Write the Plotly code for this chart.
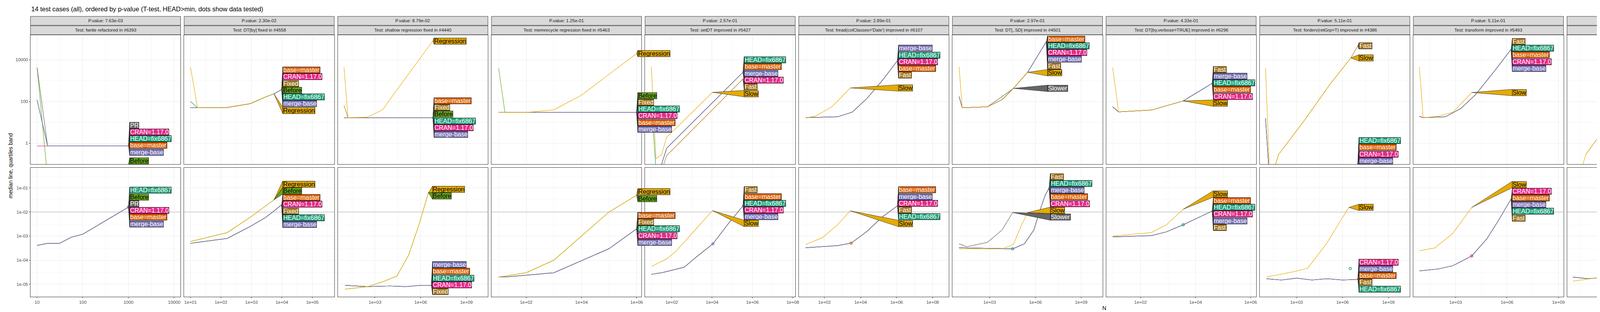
import math
import plotly.graph_objects as go
from plotly.subplots import make_subplots

TITLE = "14 test cases (all), ordered by p-value (T-test, HEAD>min, dots show data tested)"
P_VALUES = ["7.63e-03", "2.30e-02", "8.79e-02", "1.25e-01", "2.57e-01", "2.89e-01", "2.97e-01",
            "4.33e-01", "5.11e-01", "5.11e-01", "5.51e-01", "6.61e-01", "7.15e-01", "8.43e-01"]
TESTS = [
    "fwrite refactored in #6393",
    "DT[by] fixed in #4558",
    "shallow regression fixed in #4440",
    "memrecycle regression fixed in #5463",
    "setDT improved in #5427",
    "fread(colClasses='Date') improved in #6107",
    "DT[,.SD] improved in #4501",
    "DT[by,verbose=TRUE] improved in #6296",
    "forderv(retGrp=T) improved in #4386",
    "transform improved in #5493",
    "forderv(retGrp=F) improved in #4386",
    "fread(colClasses=list(Date='date')) improved in #6107",
    "melt improved in #5054",
    "fread(select=list(Date='date')) improved in #6107",
]
UNITS = ["kilobytes", "seconds"]
Y_TICKS_KB = [1, 100, 10000]
Y_TICKS_S = [1e-5, 1e-4, 1e-3, 1e-2, 1e-1]
REF_SECONDS = 0.01

X_TICKS = [
    [10, 100, 1000, 10000], [1e1, 1e2, 1e3, 1e4, 1e5], [1e3, 1e6, 1e9], [1e2, 1e4, 1e6],
    [1e2, 1e4, 1e6, 1e8], [1e2, 1e4, 1e6, 1e8], [1e3, 1e6, 1e9], [1e2, 1e4, 1e6],
    [1e3, 1e6, 1e9], [1e3, 1e6, 1e9], [1e3, 1e6, 1e9], [1e2, 1e4, 1e6, 1e8],
    [10, 100, 1000], [1e2, 1e4, 1e6, 1e8],
]
X_TICK_TEXT = [
    ["10", "100", "1000", "10000"], ["1e+01", "1e+02", "1e+03", "1e+04", "1e+05"],
    ["1e+03", "1e+06", "1e+09"], ["1e+02", "1e+04", "1e+06"],
    ["1e+02", "1e+04", "1e+06", "1e+08"], ["1e+02", "1e+04", "1e+06", "1e+08"],
    ["1e+03", "1e+06", "1e+09"], ["1e+02", "1e+04", "1e+06"],
    ["1e+03", "1e+06", "1e+09"], ["1e+03", "1e+06", "1e+09"], ["1e+03", "1e+06", "1e+09"],
    ["1e+02", "1e+04", "1e+06", "1e+08"], ["10", "100", "1000"],
    ["1e+02", "1e+04", "1e+06", "1e+08"],
]

HEAD, BASE, MB, CRAN = "HEAD=fix6867", "base=master", "merge-base", "CRAN=1.17.0"

# fwrite refactored in #6393
fw_n = [10, 17, 1000]
fw_kb_pr = [4200, 0.74, 0.74]
fw_kb_before = [4200, 0.02, 0.02]
fw_kb_main = [118, 0.74, 0.74]
fw_kb_cran = [0.74, 0.74, 0.74]
fw_n_s = [10, 17, 31, 56, 100, 1000]
fw_s = [4.1e-4, 5.0e-4, 5.0e-4, 9.0e-4, 1.2e-3, 1.6e-2]

# DT[by] fixed in #4558
by_n = [10, 17, 160, 910, 2950, 5500, 9800]
by_kb = [50, 50, 52, 79, 166, 234, 372]
by_kb_head = [100, 50, 52, 79, 166, 234, 372]
by_n_reg = [10, 17, 160, 910, 2950, 5500]
by_kb_reg = [4370, 50, 52, 79, 166, 234]
by_s = [5e-4, 5.5e-4, 8e-4, 2.5e-3, 6e-3, 1.1e-2, 2e-2]
by_s_reg = [6e-4, 7e-4, 1.4e-3, 6e-3, 1.8e-2, 3.2e-2]

# shallow regression fixed in #4440
sh_n_reg = [9.3, 17, 316, 3160, 17000, 316000, 6.3e6]
sh_kb_reg = [4370, 17, 17.8, 40, 224, 3980, 79400]
sh_n = [9.3, 17, 1000, 1e5, 6.3e6]
sh_kb = [17, 17, 17, 17, 17]
sh_kb_fixed = [65, 17, 17, 17, 17]
sh_n_s = [11, 316, 1e4, 1e5, 1e6, 5e6]
sh_s = [9e-6, 8e-6, 8.5e-6, 8e-6, 9e-6, 9e-6]
sh_n_s_reg = [11, 316, 3160, 27500, 1.6e5, 8e5, 3.2e6]
sh_s_reg = [6.3e-6, 7.9e-6, 1.26e-5, 2.2e-5, 1.6e-4, 3.2e-3, 6.3e-2]

# memrecycle regression fixed in #5463
mr_n = [10, 17, 1000, 1e5, 1e6]
mr_kb_before = [4000, 30, 30, 30, 30]
mr_kb = [30, 30, 30, 30, 30]
mr_n_reg = [10, 100, 1000, 1e4, 1e5, 1e6]
mr_kb_reg = [30, 30, 40, 200, 2000, 20000]
mr_s = [2e-5, 2e-5, 3e-5, 3e-4, 2e-3]
mr_s_reg = [2e-5, 3e-5, 1e-4, 1e-3, 1e-2, 5e-2]

# setDT improved in #5427
sd_n_slow = [9.8, 16.6, 31.6, 56, 115, 10500]
sd_kb_slow = [4570, 0.18, 0.29, 2.0, 3.8, 275]
sd_n = [16.6, 31.6, 56, 339000]
sd_kb = [0.05, 0.1, 0.58, 2510]
sd_n_head = [9.8, 16.6, 31.6, 56, 339000]
sd_kb_head = [100, 0.05, 0.1, 0.58, 2510]
sd_n_fast = [31.6, 56, 339000]
sd_kb_fast = [0.05, 0.26, 1200]
sd_n_s_slow = [9.8, 59, 170, 10500]
sd_s_slow = [5.5e-5, 1.15e-4, 2.45e-4, 1.15e-2]
sd_n_s = [9.8, 31.6, 417, 1480, 11000, 67600, 339000]
sd_s = [2.6e-5, 3.0e-5, 5.1e-5, 1.26e-4, 4.8e-4, 3.5e-3, 1.8e-2]

# fread(colClasses='Date') improved in #6107
fd_n_slow = [9.1, 29, 78, 257, 2690]
fd_kb_slow = [17, 19.5, 31, 56, 447]
fd_n = [9.1, 525, 3470, 23400, 158000, 1.1e6]
fd_kb = [17, 18.6, 31, 145, 1000, 8900]
fd_n_s_slow = [9.1, 78, 525, 2690]
fd_s_slow = [4.5e-4, 8.7e-4, 2.95e-3, 1.12e-2]
fd_n_s = [9.1, 525, 3000, 23400, 158000, 1.1e6]
fd_s = [3.3e-4, 4.0e-4, 5.1e-4, 1.6e-3, 6.2e-3, 1.8e-2]

# DT[,.SD] improved in #4501
sdt_n_slow = [10, 16, 710, 6600, 36300, 309000]
sdt_kb_slow = [4570, 50, 56, 123, 427, 2510]
sdt_n_slower = [16, 710, 5000, 36300]
sdt_kb_slower = [50, 56, 150, 427]
sdt_n = [10, 16, 710, 6600, 36300, 309000, 5.2e6]
sdt_kb = [174, 50, 56, 123, 427, 2510, 74000]
sdt_n_s_slower = [10, 31.6, 710, 6600, 32400]
sdt_s_slower = [4.8e-4, 3.6e-4, 5.5e-4, 1.8e-3, 9.5e-3]
sdt_n_s_slow = [10, 6600, 36300, 112000, 309000]
sdt_s_slow = [2.95e-4, 2.95e-4, 4.5e-4, 2.5e-3, 9.5e-3]
sdt_n_s = [10, 32400, 190000, 794000, 1.9e6, 4.4e6, 7.9e6]
sdt_s = [3.3e-4, 2.95e-4, 4.8e-4, 1.8e-3, 1.1e-2, 5e-2, 0.1]

# DT[by,verbose=TRUE] improved in #6296
vb_n_slow = [9.8, 16, 250, 3550]
vb_kb_slow = [4170, 32, 39, 107]
vb_n = [9.8, 16, 250, 3550, 40000]
vb_kb = [56, 32, 39, 107, 740]
vb_n_s_slow = [9.8, 250, 870, 3550]
vb_s_slow = [1e-3, 1.4e-3, 2.95e-3, 1.3e-2]
vb_n_s = [9.8, 250, 870, 3550, 40000]
vb_s = [9.3e-4, 1.05e-3, 1.5e-3, 2.95e-3, 1.1e-2]

# forderv(retGrp=T) improved in #4386
ft_n_slow = [9.3, 17, 31.6, 66, 3090, 158000, 3.5e6]
ft_kb_slow = [4170, 0.05, 0.05, 0.29, 12, 692, 12300]
ft_n_fast = [31.6, 66, 3090, 158000, 3.5e6, 1e7]
ft_kb_fast = [0.05, 0.29, 12, 692, 12300, 45700]
ft_n = [9.3, 17, 1e7]
ft_kb = [16, 0.02, 0.02]
ft_n_s_slow = [10.7, 740, 5250, 89000, 832000, 2.6e6]
ft_s_slow = [2.0e-5, 3.4e-5, 4.6e-5, 4.8e-4, 4.9e-3, 1.55e-2]
ft_n_s = [10.7, 100, 1000, 1e4, 1e5, 1e6, 1e7]
ft_s = [1.7e-5, 1.5e-5, 1.8e-5, 1.5e-5, 1.7e-5, 1.5e-5, 1.6e-5]

# transform improved in #5493
tr_n_slow = [7.6, 12.6, 93, 690, 8700]
tr_kb_slow = [4570, 17, 19.5, 31, 270]
tr_n = [7.6, 12.6, 250, 2000, 14500, 182000, 1.74e6]
tr_kb = [19.5, 17, 18.6, 46, 214, 2820, 31600]
tr_n_s_slow = [7.6, 59, 690, 8700]
tr_s_slow = [2.45e-4, 3.2e-4, 1.3e-3, 1.55e-2]
tr_n_s = [7.6, 93, 690, 8700, 67600, 295000, 1.74e6]
tr_s = [3.6e-5, 4.3e-5, 5.9e-5, 1.5e-4, 7.8e-4, 4.1e-3, 3.5e-2]

# forderv(retGrp=F) improved in #4386
ff_n_slow = [10, 42, 71, 2750, 257000, 3.2e6]
ff_kb_slow = [0.08, 0.08, 0.29, 12, 1200, 12300]
ff_n_fast = [71, 2750, 257000, 3.2e6, 1e7]
ff_kb_fast = [0.29, 12, 1200, 12300, 45700]
ff_n = [10, 1e7]
ff_kb = [0.02, 0.02]
ff_n_s_slow = [10, 890, 4900, 46800, 437000, 3.2e6]
ff_s_slow = [1.35e-5, 2.0e-5, 4.6e-5, 3.4e-4, 3.5e-3, 1.35e-2]
ff_n_s = [10, 100, 1000, 1e4, 1e5, 1e6, 3.2e6]
ff_s = [2e-5, 1.7e-5, 1.9e-5, 1.6e-5, 1.8e-5, 1.6e-5, 1.7e-5]

# fread(colClasses=list(Date='date')) improved in #6107
fl_n_slow = [10, 17, 35, 71, 229, 3090]
fl_kb_slow = [7240, 17.8, 19.5, 29, 46, 468]
fl_n = [17, 589, 3800, 25700, 158000, 1e6]
fl_kb = [17.8, 18.6, 31, 123, 1000, 8900]
fl_n_cran = [10, 17, 589, 3800, 25700, 158000, 1e6]
fl_kb_cran = [427, 17.8, 18.6, 31, 123, 1000, 8900]
fl_n_s_slow = [10, 91, 589, 3090]
fl_s_slow = [4.5e-4, 8.7e-4, 2.5e-3, 1.07e-2]
fl_n_s = [10, 3090, 25700, 158000, 1e6]
fl_s = [3.3e-4, 5.1e-4, 1.8e-3, 6.3e-3, 1.8e-2]

# melt improved in #5054
ml_n = [10, 31.6, 100, 316, 1000, 3160]
ml_kb = [20, 32, 100, 500, 3160, 20000]
ml_s = [5e-5, 1e-4, 2.5e-4, 1e-3, 5e-3, 3e-2]

# fread(select=list(Date='date')) improved in #6107
fs_n_slow = [10, 17, 35, 71, 229, 2950]
fs_kb_slow = [7240, 17.8, 19.5, 29, 46, 447]
fs_n = [17, 1350, 10000, 79000, 933000]
fs_kb = [17.8, 23, 59, 372, 4170]
fs_n_s_slow = [10, 91, 589, 2950]
fs_s_slow = [4.5e-4, 8.7e-4, 2.5e-3, 1e-2]
fs_n_s = [10, 1350, 2950, 15800, 31600, 158000, 282000, 933000]
fs_s = [3.3e-4, 3.8e-4, 4.8e-4, 8.3e-4, 1.6e-3, 5.75e-3, 5.4e-3, 1.7e-2]

# dots: data tested (panel index, series, N, seconds)
DOTS = [
    (0, MB, 1000, 1.6e-2), (4, MB, 11000, 4.8e-4), (5, BASE, 3000, 5.1e-4),
    (6, HEAD, 32400, 2.95e-4), (7, HEAD, 3550, 2.95e-3), (8, HEAD, 3.2e6, 4.5e-5),
    (9, CRAN, 8700, 1.5e-4), (10, HEAD, 3.2e6, 2.5e-5), (11, BASE, 3090, 5.1e-4),
    (13, CRAN, 2950, 4.8e-4),
]


def same(curve, names):
    return {nm: curve for nm in names}


PANELS = [
    dict(kb={"Before": (fw_n, fw_kb_before), "PR": (fw_n, fw_kb_pr), CRAN: (fw_n, fw_kb_cran),
             **same((fw_n, fw_kb_main), [HEAD, BASE, MB])},
         s=same((fw_n_s, fw_s), ["Before", "PR", CRAN, BASE, HEAD, MB]),
         kb_order=["PR", CRAN, HEAD, BASE, MB, "Before"],
         s_order=[HEAD, "Before", "PR", CRAN, BASE, MB]),
    dict(kb={**same((by_n, by_kb), [BASE, CRAN, "Fixed", "Before", MB]), HEAD: (by_n, by_kb_head),
             "Regression": (by_n_reg, by_kb_reg)},
         s={**same((by_n, by_s), [BASE, CRAN, "Fixed", HEAD, MB]),
            **same((by_n_reg, by_s_reg), ["Before", "Regression"])},
         kb_order=[BASE, CRAN, "Fixed", "Before", HEAD, MB, "Regression"],
         s_order=["Regression", "Before", BASE, CRAN, "Fixed", HEAD, MB]),
    dict(kb={**same((sh_n, sh_kb), [BASE, HEAD, CRAN, MB, "Before"]), "Fixed": (sh_n, sh_kb_fixed),
             "Regression": (sh_n_reg, sh_kb_reg)},
         s={**same((sh_n_s, sh_s), [MB, BASE, HEAD, CRAN, "Fixed"]),
            **same((sh_n_s_reg, sh_s_reg), ["Before", "Regression"])},
         kb_order=["Regression", BASE, "Fixed", "Before", HEAD, CRAN, MB],
         s_order=["Regression", "Before", MB, BASE, HEAD, CRAN, "Fixed"]),
    dict(kb={**same((mr_n, mr_kb), ["Fixed", HEAD, CRAN, BASE, MB]), "Before": (mr_n, mr_kb_before),
             "Regression": (mr_n_reg, mr_kb_reg)},
         s={**same((mr_n, mr_s), [BASE, "Fixed", HEAD, CRAN, MB]),
            **same((mr_n_reg, mr_s_reg), ["Before", "Regression"])},
         kb_order=["Regression", "Before", "Fixed", HEAD, CRAN, BASE, MB],
         s_order=["Regression", "Before", BASE, "Fixed", HEAD, CRAN, MB]),
    dict(kb={**same((sd_n, sd_kb), [BASE, MB, CRAN]), HEAD: (sd_n_head, sd_kb_head),
             "Fast": (sd_n_fast, sd_kb_fast), "Slow": (sd_n_slow, sd_kb_slow)},
         s={**same((sd_n_s, sd_s), [BASE, MB, CRAN, HEAD, "Fast"]), "Slow": (sd_n_s_slow, sd_s_slow)},
         kb_order=[HEAD, BASE, MB, CRAN, "Fast", "Slow"],
         s_order=["Fast", BASE, HEAD, CRAN, MB, "Slow"]),
    dict(kb={**same((fd_n, fd_kb), [MB, HEAD, CRAN, BASE, "Fast"]), "Slow": (fd_n_slow, fd_kb_slow)},
         s={**same((fd_n_s, fd_s), [MB, HEAD, CRAN, BASE, "Fast"]), "Slow": (fd_n_s_slow, fd_s_slow)},
         kb_order=[MB, HEAD, CRAN, BASE, "Fast", "Slow"],
         s_order=[BASE, MB, CRAN, "Fast", HEAD, "Slow"]),
    dict(kb={**same((sdt_n, sdt_kb), [BASE, HEAD, CRAN, MB, "Fast"]), "Slow": (sdt_n_slow, sdt_kb_slow),
             "Slower": (sdt_n_slower, sdt_kb_slower)},
         s={**same((sdt_n_s, sdt_s), [BASE, HEAD, CRAN, MB, "Fast"]),
            "Slow": (sdt_n_s_slow, sdt_s_slow), "Slower": (sdt_n_s_slower, sdt_s_slower)},
         kb_order=[BASE, HEAD, CRAN, MB, "Fast", "Slow", "Slower"],
         s_order=["Fast", HEAD, MB, BASE, CRAN, "Slow", "Slower"]),
    dict(kb={**same((vb_n, vb_kb), [MB, HEAD, CRAN, BASE, "Fast"]), "Slow": (vb_n_slow, vb_kb_slow)},
         s={**same((vb_n_s, vb_s), [MB, HEAD, CRAN, BASE, "Fast"]), "Slow": (vb_n_s_slow, vb_s_slow)},
         kb_order=["Fast", MB, HEAD, BASE, CRAN, "Slow"],
         s_order=["Slow", BASE, HEAD, CRAN, MB, "Fast"]),
    dict(kb={**same((ft_n, ft_kb), [HEAD, BASE, CRAN, MB]), "Fast": (ft_n_fast, ft_kb_fast),
             "Slow": (ft_n_slow, ft_kb_slow)},
         s={**same((ft_n_s, ft_s), [HEAD, BASE, CRAN, MB, "Fast"]), "Slow": (ft_n_s_slow, ft_s_slow)},
         kb_order=["Fast", "Slow", HEAD, BASE, CRAN, MB],
         s_order=["Slow", CRAN, MB, BASE, "Fast", HEAD]),
    dict(kb={**same((tr_n, tr_kb), [MB, HEAD, CRAN, BASE, "Fast"]), "Slow": (tr_n_slow, tr_kb_slow)},
         s={**same((tr_n_s, tr_s), [MB, HEAD, CRAN, BASE, "Fast"]), "Slow": (tr_n_s_slow, tr_s_slow)},
         kb_order=["Fast", HEAD, BASE, CRAN, MB, "Slow"],
         s_order=["Slow", CRAN, BASE, MB, HEAD, "Fast"]),
    dict(kb={**same((ff_n, ff_kb), [HEAD, BASE, CRAN, MB]), "Fast": (ff_n_fast, ff_kb_fast),
             "Slow": (ff_n_slow, ff_kb_slow)},
         s={**same((ff_n_s, ff_s), [HEAD, BASE, CRAN, MB, "Fast"]), "Slow": (ff_n_s_slow, ff_s_slow)},
         kb_order=["Fast", "Slow", MB, HEAD, CRAN, BASE],
         s_order=["Slow", BASE, "Fast", CRAN, HEAD, MB]),
    dict(kb={**same((fl_n, fl_kb), [MB, HEAD, BASE, "Fast"]), CRAN: (fl_n_cran, fl_kb_cran),
             "Slow": (fl_n_slow, fl_kb_slow)},
         s={**same((fl_n_s, fl_s), [MB, HEAD, CRAN, BASE, "Fast"]), "Slow": (fl_n_s_slow, fl_s_slow)},
         kb_order=[MB, HEAD, CRAN, BASE, "Fast", "Slow"],
         s_order=[BASE, "Fast", CRAN, MB, HEAD, "Slow"]),
    dict(kb=same((ml_n, ml_kb), [BASE, HEAD, CRAN, MB, "Fast", "Slow"]),
         s=same((ml_n, ml_s), [BASE, HEAD, CRAN, MB, "Fast", "Slow"]),
         kb_order=[BASE, HEAD, CRAN, MB, "Fast", "Slow"],
         s_order=[BASE, MB, HEAD, CRAN, "Fast", "Slow"]),
    dict(kb={**same((fs_n, fs_kb), [MB, HEAD, CRAN, BASE, "Fast"]), "Slow": (fs_n_slow, fs_kb_slow)},
         s={**same((fs_n_s, fs_s), [MB, HEAD, CRAN, BASE, "Fast"]), "Slow": (fs_n_s_slow, fs_s_slow)},
         kb_order=[MB, HEAD, CRAN, BASE, "Fast", "Slow"],
         s_order=[BASE, "Fast", CRAN, MB, HEAD, "Slow"]),
]

COLORS = {
    HEAD: "#1B9E77", BASE: "#D95F02", MB: "#7570B3", CRAN: "#E7298A",
    "Before": "#66A61E", "Regression": "#E6AB02", "Slow": "#E6AB02",
    "Fixed": "#A6761D", "Fast": "#A6761D", "PR": "#666666", "Slower": "#666666",
}
DARK_TEXT = {"Before", "Regression", "Slow"}
DRAW_ORDER = ["Before", "PR", "Slower", "Fixed", "Fast", CRAN, BASE, HEAD, MB, "Regression", "Slow"]

# layout geometry (pixels)
W, H = 5600, 800
L_M, R_M, T_M, B_M = 70, 32, 82, 47
PLOT_W, PLOT_H = W - L_M - R_M, H - T_M - B_M
GAP = 9
PANEL_W = (PLOT_W - 13 * GAP) / 14
X_RANGES = [
    (0.855, 4.14), (0.79, 5.72), (0.56, 10.41), (0.74, 6.18), (0.68, 8.12), (0.57, 8.9),
    (0.56, 10.4), (0.75, 6.2), (0.59, 10.4), (0.53, 9.3), (0.62, 10.46), (0.66, 8.85),
    (0.89, 3.76), (0.68, 8.85),
]
Y_RANGE = {"kb": (-1.0, 5.18), "s": (-5.52, -0.16)}
LABEL_H = {"kb": 17.3 / 53.6, "s": 17.3 / 62.0}
FONT = "Liberation Sans, Arial, sans-serif"


def stack(targets, h):
    # isotonic fit so that labels (top to bottom) keep order without overlap
    z = [t + i * h for i, t in enumerate(targets)]
    blocks = []
    for v in z:
        blocks.append([v, 1])
        while len(blocks) > 1 and blocks[-2][0] / blocks[-2][1] < blocks[-1][0] / blocks[-1][1]:
            s, c = blocks.pop()
            blocks[-1][0] += s
            blocks[-1][1] += c
    q = []
    for s, c in blocks:
        q += [s / c] * c
    return [qi - i * h for i, qi in enumerate(q)]


def minor_vals(ticks, lo, hi):
    logs = [math.log10(t) for t in ticks]
    step = logs[1] - logs[0]
    v = logs[0] - step / 2
    while v - step > lo:
        v -= step
    out = []
    while v < hi:
        if v > lo:
            out.append(10 ** v)
        v += step
    return out


fig = make_subplots(rows=2, cols=14, horizontal_spacing=GAP / PLOT_W, vertical_spacing=GAP / PLOT_H)
annotations = []
shapes = []

for c, panel in enumerate(PANELS):
    xlo, xhi = X_RANGES[c]
    gap = 3 * (xhi - xlo) / PANEL_W
    for r, key in enumerate(["kb", "s"]):
        row, col = r + 1, c + 1
        idx = r * 14 + c + 1
        xref = "x" if idx == 1 else f"x{idx}"
        yref = "y" if idx == 1 else f"y{idx}"
        ylo, yhi = Y_RANGE[key]
        h = LABEL_H[key]
        series = panel[key]
        if key == "s":
            fig.add_trace(go.Scatter(x=[10 ** xlo, 10 ** xhi], y=[REF_SECONDS, REF_SECONDS], mode="lines",
                                     line=dict(color="#B3B3B3", width=1.4), hoverinfo="skip",
                                     showlegend=False), row=row, col=col)
        for name in DRAW_ORDER:
            if name in series:
                n, v = series[name]
                fig.add_trace(go.Scatter(x=n, y=v, mode="lines", line=dict(color=COLORS[name], width=1.2),
                                         name=name, showlegend=False), row=row, col=col)
        if key == "s":
            for pc, name, n, v in DOTS:
                if pc == c:
                    fig.add_trace(go.Scatter(x=[n], y=[v], mode="markers",
                                             marker=dict(symbol="circle-open", size=6, color=COLORS[name],
                                                         line=dict(width=1.5)),
                                             showlegend=False, hoverinfo="skip"), row=row, col=col)
        order = panel[key + "_order"]
        ends = {nm: (math.log10(series[nm][0][-1]), math.log10(series[nm][1][-1])) for nm in order}
        x_lab = max(e[0] for e in ends.values()) + gap
        k = len(order)
        targets = [min(max(ends[nm][1], ylo + h / 2 + (k - 1 - i) * h), yhi - h / 2 - i * h)
                   for i, nm in enumerate(order)]
        centres = stack(targets, h)
        for nm, cy in zip(order, centres):
            xe, ye = ends[nm]
            ye = min(max(ye, ylo), yhi)
            fig.add_trace(go.Scatter(
                x=[10 ** xe, 10 ** x_lab, 10 ** x_lab, 10 ** xe],
                y=[10 ** ye, 10 ** (cy + h * 0.48), 10 ** (cy - h * 0.48), 10 ** ye],
                mode="lines", fill="toself", fillcolor=COLORS[nm],
                line=dict(color="#1A1A1A", width=0.8), hoverinfo="skip", showlegend=False), row=row, col=col)
            annotations.append(dict(
                x=x_lab, y=cy, xref=xref, yref=yref, text=nm, showarrow=False,
                xanchor="left", yanchor="middle", bgcolor=COLORS[nm], bordercolor="#1A1A1A",
                borderwidth=1, borderpad=0, height=15,
                font=dict(family=FONT, size=16, color="black" if nm in DARK_TEXT else "white")))

        ticks = X_TICKS[c]
        fig.update_xaxes(type="log", range=[xlo, xhi], tickvals=ticks, ticktext=X_TICK_TEXT[c],
                         showticklabels=(row == 2), ticks="outside" if row == 2 else "",
                         minor=dict(tickvals=minor_vals(ticks, xlo, xhi), showgrid=True,
                                    gridcolor="#F4F4F4", gridwidth=1, ticks=""),
                         row=row, col=col)
        yt = Y_TICKS_KB if key == "kb" else Y_TICKS_S
        ytext = ["1", "100", "10000"] if key == "kb" else ["1e-05", "1e-04", "1e-03", "1e-02", "1e-01"]
        fig.update_yaxes(type="log", range=[ylo, yhi], tickvals=yt, ticktext=ytext,
                         showticklabels=(col == 1), ticks="outside" if col == 1 else "",
                         minor=dict(tickvals=minor_vals(yt, ylo, yhi), showgrid=True,
                                    gridcolor="#F4F4F4", gridwidth=1, ticks=""),
                         row=row, col=col)

fig.update_xaxes(showline=True, mirror=True, linecolor="#333333", linewidth=1, gridcolor="#EBEBEB",
                 gridwidth=1, zeroline=False, ticklen=3, tickcolor="#333333",
                 tickfont=dict(family=FONT, size=11.5, color="#4D4D4D"))
fig.update_yaxes(showline=True, mirror=True, linecolor="#333333", linewidth=1, gridcolor="#EBEBEB",
                 gridwidth=1, zeroline=False, ticklen=3, tickcolor="#333333",
                 tickfont=dict(family=FONT, size=11.5, color="#4D4D4D"))


def px_x(p):
    return (p - L_M) / PLOT_W


def px_y(p):
    return (H - B_M - p) / PLOT_H


# facet strips
for c in range(14):
    x0 = c * (PANEL_W + GAP) / PLOT_W
    x1 = x0 + PANEL_W / PLOT_W
    for (top, bot), text in [((34, 57), "P.value: " + P_VALUES[c]), ((58, 81), "Test: " + TESTS[c])]:
        shapes.append(dict(type="rect", xref="paper", yref="paper", x0=x0, x1=x1, y0=px_y(bot), y1=px_y(top),
                           fillcolor="#D9D9D9", line=dict(color="#333333", width=1), layer="below"))
        annotations.append(dict(x=(x0 + x1) / 2, y=px_y((top + bot) / 2), xref="paper", yref="paper",
                                text=text, showarrow=False, xanchor="center", yanchor="middle",
                                font=dict(family=FONT, size=11.5, color="#1A1A1A")))

for r, unit in enumerate(UNITS):
    top = T_M + r * ((PLOT_H - GAP) / 2 + GAP)
    bot = top + (PLOT_H - GAP) / 2
    shapes.append(dict(type="rect", xref="paper", yref="paper", x0=px_x(5570), x1=px_x(5592),
                       y0=px_y(bot), y1=px_y(top), fillcolor="#D9D9D9", line=dict(color="#333333", width=1)))
    annotations.append(dict(x=px_x(5581), y=px_y((top + bot) / 2), xref="paper", yref="paper",
                            text="unit:" + unit, showarrow=False, textangle=90,
                            font=dict(family=FONT, size=11.5, color="#1A1A1A")))

annotations.append(dict(x=0, y=px_y(15), xref="paper", yref="paper", text=TITLE, showarrow=False,
                        xanchor="left", yanchor="middle", font=dict(family=FONT, size=16.5, color="black")))
annotations.append(dict(x=px_x(18), y=0.5, xref="paper", yref="paper", text="median line, quartiles band",
                        showarrow=False, textangle=-90, xanchor="center", yanchor="middle",
                        font=dict(family=FONT, size=14, color="black")))
annotations.append(dict(x=0.5, y=px_y(782), xref="paper", yref="paper", text="N", showarrow=False,
                        xanchor="center", yanchor="middle", font=dict(family=FONT, size=14, color="black")))

fig.update_layout(width=W, height=H, margin=dict(l=L_M, r=R_M, t=T_M, b=B_M),
                  plot_bgcolor="white", paper_bgcolor="white", showlegend=False,
                  annotations=annotations, shapes=shapes, font=dict(family=FONT))
fig.write_html("out.html")
